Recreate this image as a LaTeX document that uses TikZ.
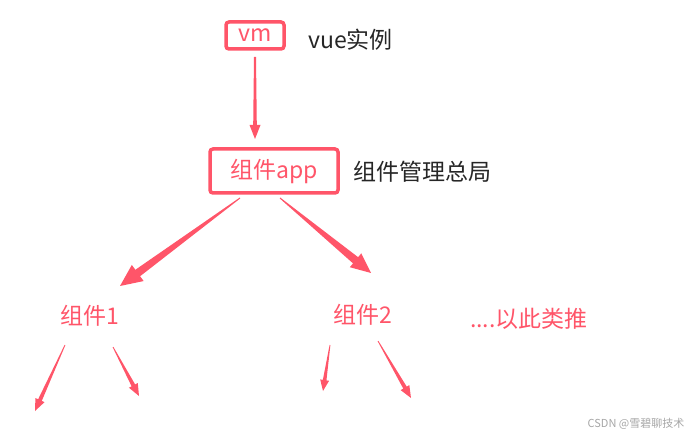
\documentclass[tikz,border=0pt]{standalone}
\usepackage{fontspec}
\setmainfont{Noto Sans CJK SC}
\usetikzlibrary{calc}
\definecolor{vuered}{RGB}{255,85,105}

% tapered arrow: from, to, start half width, neck half width, head half width, head length
\newcommand{\taperarrow}[6]{%
  \path (#2) coordinate (ta-tip) ($(#2)!#6!(#1)$) coordinate (ta-neck);
  \fill[vuered] ($(#1)!#3!90:(#2)$) -- ($(ta-neck)!#4!-90:(#1)$)
    -- ($(ta-neck)!#5!-90:(#1)$) -- (ta-tip) -- ($(ta-neck)!#5!90:(#1)$)
    -- ($(ta-neck)!#4!90:(#1)$) -- ($(#1)!#3!-90:(#2)$) -- cycle;
}

\begin{document}
\begin{tikzpicture}[
        x=1pt, y=-1pt,
        every node/.style={font=\fontsize{23}{27}\selectfont, inner sep=0pt},
        box/.style={draw=vuered, line width=3.5pt, rounded corners=3pt, text=vuered},
        note/.style={text=black!85, anchor=west},
        comp/.style={text=vuered},
    ]
    \useasboundingbox (0,0) rectangle (699,438);

    \node[box, minimum width=58pt, minimum height=27pt](vm) at (255,35.5){vm};
    \node[note](vmnote) at (308,40){vue实例};
    \node[box, minimum width=128pt, minimum height=44pt](app) at (274,171){组件app};
    \node[note](appnote) at (353,172){组件管理总局};

    \node[comp](comp1) at (90,316){组件1};
    \node[comp](comp2) at (363,315){组件2};
    \node[comp, anchor=west](more) at (470,319){....以此类推};

    \node[text=black!35, font=\fontsize{11}{13}\selectfont](mark) at (636,424){CSDN @雪碧聊技术};

    % free ends
    \coordinate (vm-s) at (255,57);
    \coordinate (app-t) at (255,139);
    \coordinate (app-l) at (240,198);
    \coordinate (app-r) at (280,198);
    \coordinate (c1-t) at (120,286);
    \coordinate (c2-t) at (371,273);
    \coordinate (c1-l) at (65,345);
    \coordinate (c1-r) at (113,347);
    \coordinate (c2-l) at (330,345);
    \coordinate (c2-r) at (378,341);
    \coordinate (c1-le) at (35,411);
    \coordinate (c1-re) at (139,396);
    \coordinate (c2-le) at (323,391);
    \coordinate (c2-re) at (411,398);

    \taperarrow{vm-s}{app-t}{1pt}{1.8pt}{5.5pt}{14pt}
    \taperarrow{app-l}{c1-t}{0.5pt}{4pt}{10pt}{22pt}
    \taperarrow{app-r}{c2-t}{0.5pt}{4pt}{9pt}{20pt}
    \taperarrow{c1-l}{c1-le}{0.4pt}{2pt}{5pt}{12pt}
    \taperarrow{c1-r}{c1-re}{0.4pt}{2pt}{5pt}{12pt}
    \taperarrow{c2-l}{c2-le}{0.4pt}{1.8pt}{4.5pt}{11pt}
    \taperarrow{c2-r}{c2-re}{0.4pt}{2pt}{5pt}{12pt}
\end{tikzpicture}
\end{document}
